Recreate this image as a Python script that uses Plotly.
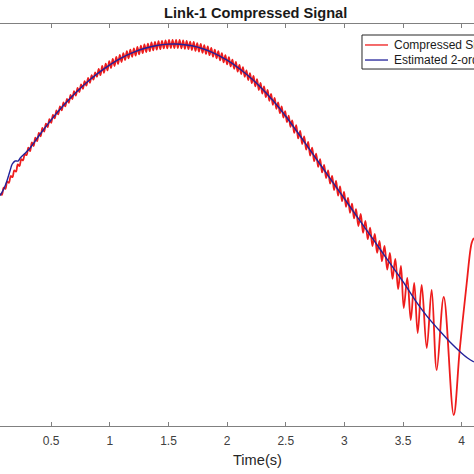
import plotly.graph_objects as go

# ---- data (time in s, signal in arbitrary units) ----
red_t = [
    0.065, 0.080, 0.095, 0.110, 0.125, 0.140, 0.155, 0.170, 0.185, 0.200,
    0.215, 0.230, 0.245, 0.260, 0.275, 0.290, 0.305, 0.320, 0.335, 0.350,
    0.365, 0.380, 0.395, 0.410, 0.425, 0.440, 0.455, 0.470, 0.485, 0.500,
    0.515, 0.530, 0.545, 0.560, 0.575, 0.590, 0.605, 0.620, 0.635, 0.650,
    0.665, 0.680, 0.695, 0.710, 0.725, 0.740, 0.755, 0.770, 0.785, 0.800,
    0.815, 0.830, 0.845, 0.860, 0.875, 0.890, 0.905, 0.920, 0.935, 0.950,
    0.965, 0.980, 0.995, 1.010, 1.025, 1.040, 1.055, 1.070, 1.085, 1.100,
    1.115, 1.130, 1.145, 1.160, 1.175, 1.190, 1.205, 1.220, 1.235, 1.250,
    1.265, 1.280, 1.295, 1.310, 1.325, 1.340, 1.355, 1.370, 1.385, 1.400,
    1.415, 1.430, 1.445, 1.460, 1.475, 1.490, 1.505, 1.520, 1.535, 1.550,
    1.565, 1.580, 1.595, 1.610, 1.625, 1.640, 1.655, 1.670, 1.685, 1.700,
    1.715, 1.730, 1.745, 1.760, 1.775, 1.790, 1.805, 1.820, 1.835, 1.850,
    1.865, 1.880, 1.895, 1.910, 1.925, 1.940, 1.955, 1.970, 1.985, 2.000,
    2.015, 2.030, 2.045, 2.060, 2.075, 2.090, 2.105, 2.120, 2.135, 2.150,
    2.165, 2.180, 2.195, 2.210, 2.225, 2.240, 2.255, 2.270, 2.285, 2.300,
    2.315, 2.330, 2.345, 2.360, 2.375, 2.390, 2.405, 2.420, 2.435, 2.450,
    2.465, 2.480, 2.495, 2.510, 2.525, 2.540, 2.555,
    2.572, 2.589, 2.606, 2.623, 2.640, 2.657, 2.674, 2.691, 2.708, 2.725,
    2.742, 2.759, 2.776, 2.793, 2.810, 2.827, 2.844, 2.861, 2.878, 2.895,
    2.912, 2.929, 2.946, 2.963, 2.980, 2.997, 3.014, 3.031, 3.048, 3.065,
    3.082, 3.099,
    3.119, 3.139, 3.159, 3.179, 3.199, 3.219, 3.239, 3.259, 3.279, 3.299,
    3.320, 3.342, 3.365, 3.388, 3.410, 3.434, 3.458, 3.482,
    3.506, 3.536, 3.566, 3.595, 3.625, 3.659, 3.702, 3.744, 3.787, 3.847,
    3.932, 3.983, 4.043, 4.085, 4.104,
]
red_v = [
    58.1, 57.8, 59.6, 59.3, 61.1, 60.8, 62.5, 62.2, 63.9, 63.6,
    65.4, 65.0, 66.7, 66.4, 68.0, 67.7, 69.6, 68.7, 70.9, 70.0,
    72.1, 71.2, 73.3, 72.4, 74.5, 73.6, 75.6, 74.7, 76.7, 75.8,
    77.8, 76.9, 78.9, 77.9, 79.9, 78.9, 80.9, 79.9, 81.8, 80.8,
    82.8, 81.7, 83.7, 82.6, 84.5, 83.5, 85.4, 84.3, 86.2, 85.1,
    87.0, 85.8, 87.7, 86.6, 88.4, 87.3, 89.3, 87.7, 90.0, 88.3,
    90.6, 88.9, 91.2, 89.5, 91.8, 90.0, 92.3, 90.5, 92.8, 91.0,
    93.2, 91.5, 93.7, 91.9, 94.1, 92.3, 94.4, 92.6, 94.8, 92.9,
    95.1, 93.2, 95.4, 93.5, 95.6, 93.7, 95.9, 93.9, 96.0, 94.1,
    96.2, 94.2, 96.3, 94.4, 96.4, 94.4, 96.5, 94.5, 96.5, 94.5,
    96.5, 94.5, 96.5, 94.4, 96.4, 94.3, 96.3, 94.2, 96.1, 94.0,
    96.0, 93.8, 95.7, 93.6, 95.5, 93.3, 95.2, 93.0, 94.9, 92.7,
    94.5, 92.3, 94.1, 91.9, 93.7, 91.4, 93.2, 90.9, 92.7, 90.4,
    92.2, 89.9, 91.6, 89.3, 91.0, 88.6, 90.3, 88.0, 89.7, 87.3,
    88.9, 86.5, 88.2, 85.7, 87.5, 84.9, 86.7, 84.0, 85.8, 83.1,
    84.9, 82.2, 84.0, 81.3, 83.0, 80.3, 82.0, 79.3, 80.9, 78.2,
    79.9, 77.1, 78.7, 76.0, 77.6, 74.8, 76.4,
    73.3, 75.2, 71.9, 73.8, 70.5, 72.4, 69.1, 71.0, 67.6, 69.6,
    66.2, 68.1, 64.8, 66.7, 63.4, 65.3, 62.0, 63.9, 60.6, 62.5,
    59.0, 61.3, 57.6, 59.9, 56.2, 58.5, 54.8, 57.0, 53.3, 55.6,
    51.9, 54.2,
    50.0, 53.0, 48.3, 51.3, 46.7, 49.6, 45.0, 48.0, 43.3, 46.3,
    41.2, 45.0, 39.1, 43.3, 36.8, 41.8, 34.2, 40.0,
    29.5, 37.0, 26.5, 35.75, 23.25, 35.25, 19.5, 34.0, 14.0, 32.25,
    2.75, 19.0, 35.75, 45.75, 47.0,
]

blue_t = [
    0.064, 0.100, 0.125, 0.151, 0.168, 0.193, 0.219, 0.236, 0.270, 0.320,
    0.40, 0.50, 0.60, 0.70, 0.80, 0.90, 1.00, 1.10, 1.20, 1.30, 1.40, 1.50,
    1.55,
    1.60, 1.70, 1.80, 1.90, 2.00, 2.10, 2.20, 2.30, 2.40, 2.50, 2.60, 2.70,
    2.80, 2.90, 3.00, 3.10, 3.20, 3.30, 3.40, 3.50, 3.60, 3.70, 3.80, 3.90,
    4.00, 4.05, 4.104,
]
blue_v = [
    57.6, 59.5, 61.5, 64.0, 65.5, 66.25, 66.25, 67.0, 68.0, 69.5,
    72.75, 76.54, 79.98, 83.07, 85.83, 88.23, 90.3, 92.02, 93.39, 94.43, 95.11, 95.46,
    95.5,
    95.45, 95.05, 94.25, 93.05, 91.45, 89.45, 87.05, 84.25, 81.05, 77.45, 73.43, 69.28,
    65.13, 60.98, 56.83, 52.68, 48.53, 44.38, 40.23, 36.08, 31.6, 27.6, 24.2, 21.0,
    18.2, 17.0, 16.0,
]

tick_vals = [0.5, 1, 1.5, 2, 2.5, 3, 3.5, 4]
tick_text = ["0.5", "1", "1.5", "2", "2.5", "3", "3.5", "4"]

series_names = ["Compressed Signal", "Estimated 2-order System"]
series_colors = ["#ee1c1c", "#22229a"]
title_text = "Link-1 Compressed Signal"
xlabel_text = "Time(s)"

assert len(red_t) == len(red_v)
assert len(blue_t) == len(blue_v)

FONT = "Arial, 'Liberation Sans', Helvetica, sans-serif"

fig = go.Figure()
fig.add_trace(go.Scatter(
    x=red_t, y=red_v, mode="lines", name=series_names[0], showlegend=False,
    line=dict(color=series_colors[0], width=1.8, shape="spline", smoothing=1.0),
))
fig.add_trace(go.Scatter(
    x=blue_t, y=blue_v, mode="lines", name=series_names[1], showlegend=False,
    line=dict(color=series_colors[1], width=1.4, shape="spline", smoothing=1.0),
))

# legend box (partly outside the visible area, like the reference crop)
leg_x0, leg_x1 = 0.7637, 1.05
leg_y0, leg_y1 = 0.888, 0.9726
leg_line_x = (0.770, 0.8186)
leg_text_x = 0.827
leg_rows_y = [0.9478, 0.9104]

shapes = [dict(type="rect", xref="paper", yref="paper",
               x0=leg_x0, x1=leg_x1, y0=leg_y0, y1=leg_y1,
               line=dict(color="#262626", width=1), fillcolor="white", layer="above")]
annotations = []
for name, col, yy in zip(series_names, series_colors, leg_rows_y):
    shapes.append(dict(type="line", xref="paper", yref="paper",
                       x0=leg_line_x[0], x1=leg_line_x[1], y0=yy, y1=yy,
                       line=dict(color=col, width=1.3), layer="above"))
    annotations.append(dict(text=name, xref="paper", yref="paper",
                            x=leg_text_x, y=yy, xanchor="left", yanchor="middle",
                            showarrow=False,
                            font=dict(family=FONT, size=12, color="#1a1a1a")))

annotations += [
    dict(text="<b>" + title_text + "</b>", xref="paper", yref="paper",
         x=256 / 474, y=1 + 11 / 402, xanchor="center", yanchor="middle",
         showarrow=False, font=dict(family=FONT, size=14.6, color="#1a1a1a")),
    dict(text=xlabel_text, xref="paper", yref="paper",
         x=257 / 474, y=-34 / 402, xanchor="center", yanchor="middle",
         showarrow=False, font=dict(family=FONT, size=14.6, color="#262626")),
]

fig.update_layout(
    width=474, height=474,
    margin=dict(l=0, r=0, t=24, b=48, autoexpand=False),
    paper_bgcolor="white", plot_bgcolor="white",
    font=dict(family=FONT, size=12, color="#404040"),
    showlegend=False,
    shapes=shapes,
    annotations=annotations,
)
fig.update_xaxes(
    range=[0.0635, 4.105], tickvals=tick_vals, ticktext=tick_text,
    ticks="inside", ticklen=4, tickwidth=1, tickcolor="#808080",
    showline=True, linecolor="#808080", linewidth=1, mirror="ticks",
    showgrid=False, zeroline=False, ticklabelstandoff=4,
    tickfont=dict(family=FONT, size=12, color="#404040"),
)
fig.update_yaxes(range=[0, 100.5], visible=False, showgrid=False, zeroline=False)

fig.write_html("out.html")
